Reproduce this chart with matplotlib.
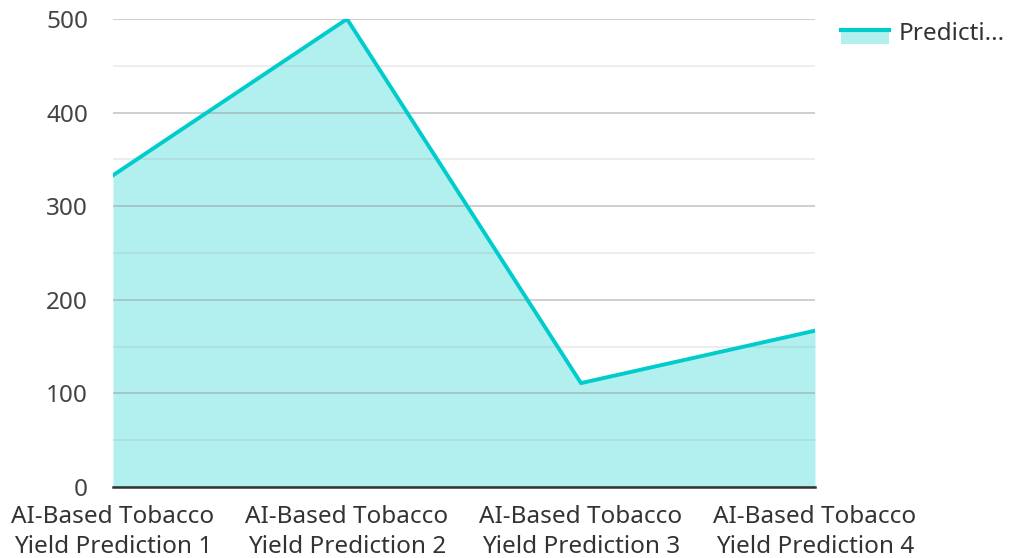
import numpy as np
import matplotlib.pyplot as plt
from matplotlib.patches import Rectangle
from matplotlib.lines import Line2D

plt.rcParams['font.family'] = ['Noto Sans', 'DejaVu Sans']

categories = ["AI-Based Tobacco\nYield Prediction 1", "AI-Based Tobacco\nYield Prediction 2",
              "AI-Based Tobacco\nYield Prediction 3", "AI-Based Tobacco\nYield Prediction 4"]
values = [333, 500, 111, 167]
series_name = "Predicti..."

line_color = "#00cccc"
fill_color = "#b2efef"


class AreaHandler:
    # legend key: filled box with the line along its top edge
    def legend_artist(self, legend, orig_handle, fontsize, handlebox):
        x0, y0 = handlebox.xdescent, handlebox.ydescent
        w, h = handlebox.width, handlebox.height
        rect = Rectangle((x0, y0 - h * 0.25), w, h * 0.85, facecolor=fill_color, edgecolor='none',
                         transform=handlebox.get_transform())
        line = Line2D([x0, x0 + w], [y0 + h * 0.55, y0 + h * 0.55], color=line_color, linewidth=3,
                      transform=handlebox.get_transform())
        handlebox.add_artist(rect)
        handlebox.add_artist(line)
        return rect


fig = plt.figure(figsize=(10.09, 5.58), dpi=100)
ax = fig.add_axes([113 / 1009, 1 - 487 / 558, (815 - 113) / 1009, (487 - 19) / 558])

x = np.arange(len(categories))
ax.fill_between(x, 0, values, color=fill_color, linewidth=0, zorder=1)
ax.plot(x, values, color=line_color, linewidth=2.8, zorder=3)

ax.set_xlim(0, len(categories) - 1)
ax.set_ylim(0, 500)
ax.set_yticks(np.arange(0, 501, 100))
ax.set_yticks(np.arange(50, 500, 100), minor=True)
ax.grid(axis='y', which='major', color='#999999', alpha=0.55, linewidth=1.2, zorder=2)
ax.grid(axis='y', which='minor', color='#999999', alpha=0.2, linewidth=1.2, zorder=2)
ax.set_axisbelow(False)

ax.set_xticks(x)
ax.set_xticklabels(categories, linespacing=1.33)
for s in ['top', 'right', 'left']:
    ax.spines[s].set_visible(False)
ax.spines['bottom'].set_color('#333333')
ax.spines['bottom'].set_linewidth(1.8)
ax.spines['bottom'].set_zorder(4)
ax.tick_params(axis='both', which='both', length=0, labelsize=17.5, colors='#444444')
ax.tick_params(axis='x', pad=13, labelcolor='#333333')
ax.tick_params(axis='y', pad=18)

leg = fig.legend([object()], [series_name], loc='upper left', bbox_to_anchor=(831 / 1009, 1 - 12 / 558),
                 frameon=False, fontsize=17.5, handlelength=2.0, handletextpad=0.4, borderaxespad=0,
                 handler_map={object: AreaHandler()})
for t in leg.get_texts():
    t.set_color('#333333')

fig.savefig("out.png", dpi=100)
